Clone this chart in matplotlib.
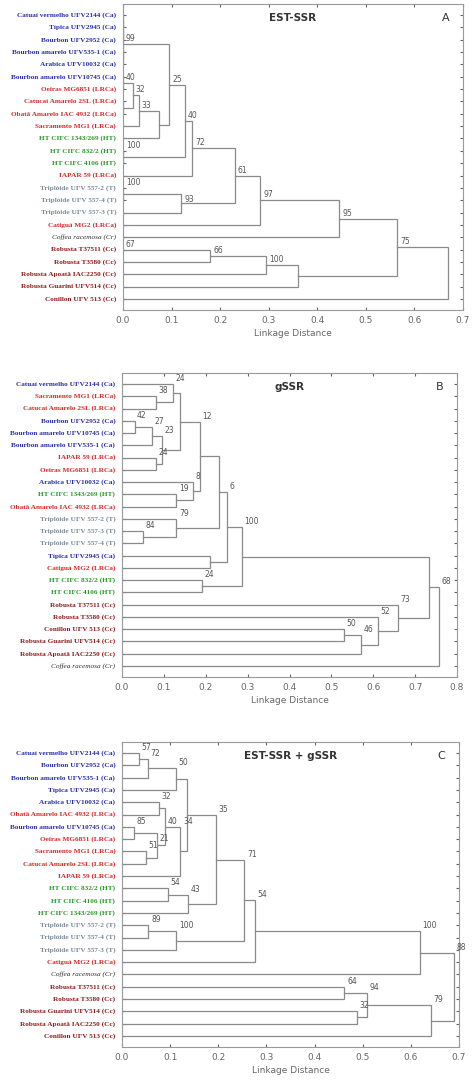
import matplotlib
matplotlib.use("Agg")
import matplotlib.pyplot as plt

COL = {"Ca": "#2a2fa8", "LRCa": "#d42a2a", "HT": "#2a9a2a", "T": "#7d8c99", "Cc": "#8e1c1c", "Cr": "#333333"}

leaves_A = ["Catuaí vermelho UFV2144 (Ca)", "Típica UFV2945 (Ca)", "Bourbon UFV2952 (Ca)",
            "Bourbon amarelo UFV535-1 (Ca)", "Arabica UFV10032 (Ca)", "Bourbon amarelo UFV10745 (Ca)",
            "Oeiras MG6851 (LRCa)", "Catucaí Amarelo 2SL (LRCa)", "Obatã Amarelo IAC 4932 (LRCa)",
            "Sacramento MG1 (LRCa)", "HT CIFC 1343/269 (HT)", "HT CIFC 832/2 (HT)", "HT CIFC 4106 (HT)",
            "IAPAR 59 (LRCa)", "Triplóide UFV 557-2 (T)", "Triplóide UFV 557-4 (T)", "Triplóide UFV 557-3 (T)",
            "Catiguá MG2 (LRCa)", "Coffea racemosa (Cr)", "Robusta T37511 (Cc)", "Robusta T3580 (Cc)",
            "Robusta Apoatã IAC2250 (Cc)", "Robusta Guarini UFV514 (Cc)", "Conillon UFV 513 (Cc)"]
# merges: (child_a, child_b, height, bootstrap label); ints = leaves, ("n", k) = k-th merge
merges_A = [(0, 1, 0.0, ""), (("n", 0), 2, 0.0, ""), (3, 4, 0.0, ""), (("n", 1), ("n", 2), 0.0, ""),
            (5, 6, 0.0, ""), (7, 8, 0.0, ""), (("n", 4), ("n", 5), 0.02, "40"),
            (("n", 6), 9, 0.032, "32"), (("n", 7), 10, 0.075, "33"),
            (("n", 3), ("n", 8), 0.095, "99"), (11, 12, 0.0, "100"),
            (("n", 9), ("n", 10), 0.128, "25"), (("n", 11), 13, 0.143, "40"),
            (14, 15, 0.0, "100"), (("n", 13), 16, 0.12, "93"),
            (("n", 12), ("n", 14), 0.23, "72"), (("n", 15), 17, 0.283, "61"),
            (("n", 16), 18, 0.445, "97"), (19, 20, 0.18, "67"), (("n", 18), 21, 0.295, "66"),
            (("n", 19), 22, 0.36, "100"), (("n", 17), ("n", 20), 0.565, "95"),
            (("n", 21), 23, 0.67, "75")]

leaves_B = ["Catuaí vermelho UFV2144 (Ca)", "Sacramento MG1 (LRCa)", "Catucaí Amarelo 2SL (LRCa)",
            "Bourbon UFV2952 (Ca)", "Bourbon amarelo UFV10745 (Ca)", "Bourbon amarelo UFV535-1 (Ca)",
            "IAPAR 59 (LRCa)", "Oeiras MG6851 (LRCa)", "Arabica UFV10032 (Ca)", "HT CIFC 1343/269 (HT)",
            "Obatã Amarelo IAC 4932 (LRCa)", "Triplóide UFV 557-2 (T)", "Triplóide UFV 557-3 (T)",
            "Triplóide UFV 557-4 (T)", "Típica UFV2945 (Ca)", "Catiguá MG2 (LRCa)", "HT CIFC 832/2 (HT)",
            "HT CIFC 4106 (HT)", "Robusta T37511 (Cc)", "Robusta T3580 (Cc)", "Conillon UFV 513 (Cc)",
            "Robusta Guarini UFV514 (Cc)", "Robusta Apoatã IAC2250 (Cc)", "Coffea racemosa (Cr)"]
merges_B = [(1, 2, 0.082, "38"), (0, ("n", 0), 0.122, "24"), (3, 4, 0.030, "42"),
            (("n", 2), 5, 0.072, "27"), (6, 7, 0.081, "24"), (("n", 3), ("n", 4), 0.096, "23"),
            (("n", 1), ("n", 5), 0.138, ""), (9, 10, 0.13, "19"), (8, ("n", 7), 0.17, "8"),
            (("n", 6), ("n", 8), 0.186, "12"), (12, 13, 0.05, "84"), (11, ("n", 10), 0.13, "79"),
            (("n", 9), ("n", 11), 0.231, ""), (14, 15, 0.211, ""), (("n", 12), ("n", 13), 0.251, "6"),
            (16, 17, 0.19, "24"), (("n", 14), ("n", 15), 0.287, "100"),
            (20, 21, 0.529, "50"), (("n", 17), 22, 0.571, "46"), (19, ("n", 18), 0.612, "52"),
            (18, ("n", 19), 0.659, "73"), (("n", 16), ("n", 20), 0.734, ""), (("n", 21), 23, 0.757, "68")]

leaves_C = ["Catuaí vermelho UFV2144 (Ca)", "Bourbon UFV2952 (Ca)", "Bourbon amarelo UFV535-1 (Ca)",
            "Típica UFV2945 (Ca)", "Arabica UFV10032 (Ca)", "Obatã Amarelo IAC 4932 (LRCa)",
            "Bourbon amarelo UFV10745 (Ca)", "Oeiras MG6851 (LRCa)", "Sacramento MG1 (LRCa)",
            "Catucaí Amarelo 2SL (LRCa)", "IAPAR 59 (LRCa)", "HT CIFC 832/2 (HT)", "HT CIFC 4106 (HT)",
            "HT CIFC 1343/269 (HT)", "Triplóide UFV 557-2 (T)", "Triplóide UFV 557-4 (T)",
            "Triplóide UFV 557-3 (T)", "Catiguá MG2 (LRCa)", "Coffea racemosa (Cr)", "Robusta T37511 (Cc)",
            "Robusta T3580 (Cc)", "Robusta Guarini UFV514 (Cc)", "Robusta Apoatã IAC2250 (Cc)",
            "Conillon UFV 513 (Cc)"]
merges_C = [(0, 1, 0.035, "57"), (("n", 0), 2, 0.053, "72"), (("n", 1), 3, 0.112, "50"),
            (4, 5, 0.076, "32"), (6, 7, 0.024, "85"), (8, 9, 0.049, "51"), (("n", 4), ("n", 5), 0.072, "21"),
            (("n", 3), ("n", 6), 0.089, "40"), (("n", 7), 10, 0.121, "34"), (("n", 2), ("n", 8), 0.135, ""),
            (11, 12, 0.095, "54"), (("n", 10), 13, 0.137, "43"), (("n", 9), ("n", 11), 0.195, "35"),
            (14, 15, 0.055, "89"), (("n", 13), 16, 0.112, "100"), (("n", 12), ("n", 14), 0.254, "71"),
            (("n", 15), 17, 0.276, "54"), (("n", 16), 18, 0.618, "100"),
            (19, 20, 0.462, "64"), (21, 22, 0.488, "32"), (("n", 18), ("n", 19), 0.509, "94"),
            (("n", 20), 23, 0.641, "79"), (("n", 17), ("n", 21), 0.689, "88")]

# label placement tweaks: (panel, merge index) -> (place at node?, extra row offset)
label_adjust = {("A", 14): (True, 0.9), ("C", 7): (True, 1.5), ("C", 6): (True, 0.9)}

panels = [("EST-SSR", "A", leaves_A, merges_A, 0.7, "child", (123, 4, 463, 310)),
          ("gSSR", "B", leaves_B, merges_B, 0.8, "node", (122, 373, 457, 677)),
          ("EST-SSR + gSSR", "C", leaves_C, merges_C, 0.7, "node", (122, 742, 459, 1047))]

W, H = 474, 1084
fig = plt.figure(figsize=(W / 100, H / 100), dpi=100)
LC = "#8a8a8a"
for title, letter, leaves, merges, xmax, mode, (l, t, r, b) in panels:
    ax = fig.add_axes([l / W, 1 - b / H, (r - l) / W, (b - t) / H])
    pos = {}

    def get(c):
        if isinstance(c, int):
            return (0.0, float(c))
        return pos[c[1]]

    for k, (ca, cb, h, lab) in enumerate(merges):
        xa, ya = get(ca)
        xb, yb = get(cb)
        ax.plot([xa, h, h, xb], [ya, ya, yb, yb], color=LC, lw=0.9, solid_joinstyle="miter")
        pos[k] = (h, (ya + yb) / 2)
        if lab:
            top_x, top_y = (xa, ya) if ya < yb else (xb, yb)
            at_node, dy = label_adjust.get((letter, k), (mode == "node", 0.0))
            lx = (h if at_node else top_x) + 0.006
            ax.text(lx, top_y - 0.08 + dy, lab, fontsize=5.5, color="#555555", ha="left", va="bottom")
    ax.set_xlim(0, xmax)
    ax.set_ylim(len(leaves) - 0.1, -0.9)
    ax.set_yticks(range(len(leaves)))
    ax.set_yticklabels([])
    for i, name in enumerate(leaves):
        grp = name.split("(")[-1].rstrip(")")
        it = grp == "Cr"
        ax.text(-0.02, i, name, transform=ax.get_yaxis_transform(),
                ha="right", va="center", fontsize=5.2, color=COL[grp],
                family="Liberation Serif", fontweight="normal" if it else "bold",
                fontstyle="italic" if it else "normal")
    ticks = [round(0.1 * k, 1) for k in range(int(round(xmax * 10)) + 1)]
    ax.set_xticks(ticks)
    ax.set_xticklabels([f"{v:.1f}" for v in ticks], fontsize=6.5, color="#666666")
    ax.tick_params(direction="in", length=2.5, top=True, right=True, color="#666666", pad=4)
    for s in ax.spines.values():
        s.set_color("#999999")
        s.set_linewidth(0.8)
    ax.set_xlabel("Linkage Distance", fontsize=6.5, color="#666666", labelpad=3)
    ax.text(0.5, 0.97, title, transform=ax.transAxes, ha="center", va="top",
            fontsize=7.5, fontweight="bold", color="#333333")
    ax.text(0.96, 0.97, letter, transform=ax.transAxes, ha="right", va="top",
            fontsize=8, color="#333333")

fig.savefig("out.png", dpi=100)
